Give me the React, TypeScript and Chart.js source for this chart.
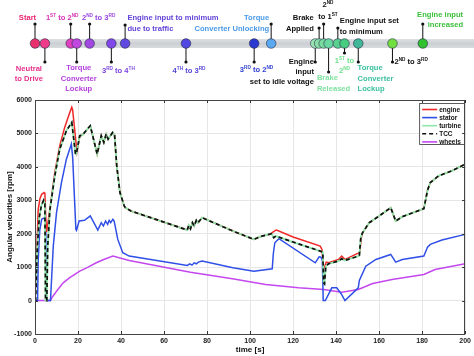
import React, { useEffect, useRef } from "react";
import { Chart, registerables } from "chart.js";
Chart.register(...registerables);

// ---------- data ----------
const xTickValues = [0, 20, 40, 60, 80, 100, 120, 140, 160, 180, 200];
const yTickValues = [-1000, 0, 1000, 2000, 3000, 4000, 5000, 6000];

const engine: number[][] = [
  [0, 0], [0.4, 0], [1.5, 2730], [2.3, 3050], [3.1, 3180], [4.2, 3230], [4.6, 3200], [5, 2500], [5.4, 2050],
  [6.9, 2730], [9.2, 3830], [11.5, 4630], [13.8, 5180], [16.2, 5630], [17.1, 5780], [17.5, 5700], [18.9, 4830],
  [19.5, 4450], [20.8, 4930], [22, 4950], [25.7, 5230], [28.9, 4380], [30.8, 4930], [32, 4730], [33.1, 4980],
  [34, 4830], [36.1, 5030], [37, 4950], [38, 4030], [39.5, 3230], [41.5, 2830], [42, 2780], [44.6, 2680],
  [70.8, 2110], [71.5, 2250], [72.3, 2150], [73.2, 2330], [74, 2230], [75, 2400], [75.8, 2330], [77.7, 2480],
  [92, 2080], [101.8, 1830], [104.6, 1910], [108.8, 1980], [110.3, 2030], [111.8, 2100], [112.3, 2110],
  [120, 1900], [132.6, 1630], [133.4, 1530], [134.2, 1000], [134.6, 980], [135.4, 1150], [136.5, 1130],
  [141.1, 1230], [142.6, 1330], [144.2, 1230], [150.3, 1420], [151, 1450], [151.8, 1900], [152.3, 2030],
  [155.4, 2330], [160, 2530], [165.4, 2780], [167.7, 2380], [170.8, 2510], [180.8, 2750], [182.5, 3300],
  [183.8, 3530], [187.7, 3730], [193.8, 3880], [200, 4080],
];

const tcc: number[][] = [
  [0, 0], [0.3, 0], [1, 1500], [2, 2500], [3, 2850], [4, 3000], [4.6, 2900], [4.9, 0], [5.5, 0], [5.9, 1600],
  [6.9, 2700], [9.2, 3730], [11.5, 4530], [14.6, 5080], [17.1, 5330], [18.8, 4400], [19.2, 4380], [20.8, 4930],
  [22, 4950], [25.7, 5230], [28.9, 4380], [30.8, 4930], [32, 4730], [33.1, 4980], [34, 4830], [36.1, 5030],
  [37, 4950], [38, 4030], [39.5, 3230], [41.5, 2830], [42, 2780], [44.6, 2680], [70.8, 2110], [71.5, 2250],
  [72.3, 2150], [73.2, 2330], [74, 2230], [75, 2400], [75.8, 2330], [77.7, 2480], [92, 2080], [101.8, 1830],
  [104.6, 1910], [108.8, 1980], [110, 2000], [111, 1880], [112, 1930], [120, 1750], [132.6, 1480],
  [133.8, 1450], [134.2, 530], [134.6, 500], [135.2, 1030], [136.5, 1100], [141, 1180], [142.6, 1250],
  [144, 1200], [150.3, 1330], [150.8, 1350], [151.5, 1900], [152.3, 2030], [155.4, 2330], [160, 2530],
  [165.4, 2780], [167.7, 2380], [170.8, 2510], [180.8, 2750], [182.5, 3300], [183.8, 3530], [187.7, 3730],
  [193.8, 3880], [200, 4080],
];

const turbine: number[][] = tcc;

const stator: number[][] = [
  [0, 0], [1.2, 0], [1.5, 1200], [2.2, 2100], [3.1, 2430], [4.6, 2480], [5, 2300], [5.3, 0], [7.2, 0],
  [8.5, 1630], [10, 2630], [12.3, 3530], [14.6, 4230], [16.9, 4680], [17.5, 4300], [19, 2130], [19.3, 2100],
  [20.5, 2380], [23, 2400], [25.7, 2530], [29.2, 2110], [30.8, 2330], [31.8, 2230], [32.8, 2380], [33.8, 2280],
  [34.5, 2400], [35.2, 2330], [36.2, 2430], [36.8, 2380], [38.5, 1830], [40.8, 1430], [43.8, 1330],
  [70.8, 1050], [72, 1100], [73, 1060], [74, 1130], [75, 1100], [76, 1150], [77.7, 1180], [92, 980],
  [101.8, 880], [110.3, 950], [110.8, 1400], [111.5, 1730], [113.4, 1850], [130.3, 1130], [132.1, 1310],
  [133, 1300], [133.6, 1200], [134, 0], [135, 0], [138, 380], [140.3, 380], [142.6, 180], [144.1, 0],
  [150.3, 380], [150.8, 600], [153.8, 1030], [158.5, 1230], [165.4, 1380], [167.7, 1150], [170.8, 1230],
  [180.8, 1330], [182.5, 1600], [183.8, 1680], [189.2, 1810], [200, 1980],
];

const wheels: number[][] = [
  [0, 0], [7.2, 0], [8, 100], [10, 280], [13.1, 530], [16, 680], [20.8, 880], [24, 980], [28.5, 1130],
  [32, 1230], [36.2, 1330], [43.8, 1200], [72.3, 850], [91.8, 650], [107.2, 480], [122.6, 380], [134.2, 330],
  [142.6, 250], [150.3, 330], [157, 510], [166, 630], [180.8, 780], [186, 930], [200, 1100],
];

const seriesLabels = ["engine", "stator", "turbine", "TCC", "wheels"];

const eventTimes = [0, 4.6, 16.6, 19.4, 25.4, 35.5, 41.9, 70.2, 101.9, 109.8, 130.3, 132.1, 134.2, 136.5, 140.8, 143.9, 150.3, 166.2, 180.3];
const eventLabels: string[][] = [
  ["Start"],
  ["Neutral", "to Drive"],
  ["1^{ST} to 2^{ND}"],
  ["Torque", "Converter", "Lockup"],
  ["2^{ND} to 3^{RD}"],
  ["3^{RD} to 4^{TH}"],
  ["Engine input to minimum", "due to traffic"],
  ["4^{TH} to 3^{RD}"],
  ["3^{RD} to 2^{ND}"],
  ["Torque", "Converter Unlocking"],
  ["Engine", "input", "set to idle voltage"],
  ["Brake", "Applied"],
  ["2^{ND}", "to 1^{ST}"],
  ["Brake", "Released"],
  ["Engine input set", "to minimum"],
  ["1^{ST} to", "2^{ND}"],
  ["Torque", "Converter", "Lockup"],
  ["2^{ND} to 3^{RD}"],
  ["Engine input", "increased"],
];

// ---------- styles for the timeline (layout only) ----------
type EvStyle = { fill: string; text: string; stem: number; dx: number; align: CanvasTextAlign; ys: number[] };
const eventStyles: EvStyle[] = [
  { fill: "#e8306e", text: "#e8246e", stem: 24, dx: -7.5, align: "center", ys: [18] },
  { fill: "#ee3c8a", text: "#e8308c", stem: 62, dx: -16, align: "center", ys: [68.5, 79] },
  { fill: "#e040c0", text: "#d832b8", stem: 24, dx: -8.5, align: "center", ys: [18] },
  { fill: "#c048e0", text: "#b440dc", stem: 62, dx: 2, align: "center", ys: [68, 78.5, 89] },
  { fill: "#a048e0", text: "#9a44e0", stem: 24, dx: 9, align: "center", ys: [18] },
  { fill: "#8048e8", text: "#7a44e0", stem: 62, dx: 7, align: "center", ys: [71] },
  { fill: "#6048e0", text: "#6444d8", stem: 25, dx: 2.3, align: "left", ys: [18, 28.5] },
  { fill: "#5048e0", text: "#5848d8", stem: 62, dx: 3, align: "center", ys: [71] },
  { fill: "#2a3ad0", text: "#3040d0", stem: 62, dx: 2.3, align: "center", ys: [70] },
  { fill: "#5aa8f0", text: "#4a9ae8", stem: 24, dx: -2, align: "right", ys: [18, 28.5] },
  { fill: "#98e4b0", text: "#111111", stem: 62, dx: -1.3, align: "right", ys: [62, 72, 82] },
  { fill: "#88e0a8", text: "#111111", stem: 28, dx: -5.3, align: "right", ys: [18, 29] },
  { fill: "#78dca0", text: "#111111", stem: 24, dx: 4.3, align: "center", ys: [5, 17] },
  { fill: "#68d8a0", text: "#7ee0a0", stem: 72, dx: -11.7, align: "left", ys: [78, 89] },
  { fill: "#58d090", text: "#111111", stem: 28, dx: 2, align: "left", ys: [21, 32] },
  { fill: "#48cc80", text: "#6ee08a", stem: 53, dx: 0, align: "center", ys: [61, 71] },
  { fill: "#40b898", text: "#3cc0a0", stem: 62, dx: -0.7, align: "left", ys: [68, 79, 89] },
  { fill: "#70e040", text: "#111111", stem: 62, dx: 2, align: "left", ys: [62] },
  { fill: "#30c030", text: "#3cc03c", stem: 24, dx: 40.3, align: "right", ys: [15, 25] },
];

const FONT = "Arial, 'Liberation Sans', sans-serif";
const BAR_Y = 43.5;
const TL_SIZE = 7.6;

function parseRich(s: string) {
  const parts: { t: string; sup: boolean }[] = [];
  const re = /\^\{([^}]*)\}/g;
  let last = 0;
  let m: RegExpExecArray | null;
  while ((m = re.exec(s))) {
    if (m.index > last) parts.push({ t: s.slice(last, m.index), sup: false });
    parts.push({ t: m[1], sup: true });
    last = re.lastIndex;
  }
  if (last < s.length) parts.push({ t: s.slice(last), sup: false });
  return parts;
}

function drawRich(ctx: CanvasRenderingContext2D, s: string, x: number, y: number, align: CanvasTextAlign, size: number) {
  const parts = parseRich(s);
  const supSize = size * 0.62;
  let total = 0;
  const widths = parts.map((p) => {
    ctx.font = `bold ${p.sup ? supSize : size}px ${FONT}`;
    const w = ctx.measureText(p.t).width;
    total += w;
    return w;
  });
  let cx = align === "left" ? x : align === "right" ? x - total : x - total / 2;
  ctx.textAlign = "left";
  ctx.textBaseline = "middle";
  parts.forEach((p, i) => {
    ctx.font = `bold ${p.sup ? supSize : size}px ${FONT}`;
    ctx.fillText(p.t, cx, p.sup ? y - size * 0.32 : y);
    cx += widths[i];
  });
}

const timelinePlugin = {
  id: "timeline",
  afterDraw(chart: any) {
    const ctx: CanvasRenderingContext2D = chart.ctx;
    const xs = chart.scales.x;
    ctx.save();
    const grad = ctx.createLinearGradient(0, BAR_Y - 4.5, 0, BAR_Y + 4.5);
    grad.addColorStop(0, "#dde0e3");
    grad.addColorStop(0.5, "#ccd0d4");
    grad.addColorStop(1, "#d8dbde");
    ctx.fillStyle = grad;
    ctx.fillRect(xs.getPixelForValue(0), BAR_Y - 4.5, chart.width - xs.getPixelForValue(0), 9);
    // stems
    eventTimes.forEach((t, i) => {
      const st = eventStyles[i];
      const cx = xs.getPixelForValue(t);
      ctx.strokeStyle = "#111";
      ctx.lineWidth = 1;
      ctx.beginPath();
      ctx.moveTo(cx, BAR_Y);
      ctx.lineTo(cx, st.stem);
      ctx.stroke();
      ctx.fillStyle = "#111";
      ctx.beginPath();
      ctx.arc(cx, st.stem, 1.6, 0, Math.PI * 2);
      ctx.fill();
    });
    // circles
    eventTimes.forEach((t, i) => {
      const st = eventStyles[i];
      const cx = xs.getPixelForValue(t);
      ctx.fillStyle = st.fill;
      ctx.strokeStyle = "rgba(40,40,70,0.75)";
      ctx.lineWidth = 0.8;
      ctx.beginPath();
      ctx.arc(cx, BAR_Y, 4.8, 0, Math.PI * 2);
      ctx.fill();
      ctx.stroke();
    });
    // labels
    eventTimes.forEach((t, i) => {
      const st = eventStyles[i];
      const cx = xs.getPixelForValue(t);
      ctx.fillStyle = st.text;
      eventLabels[i].forEach((line, j) => {
        drawRich(ctx, line, cx + st.dx, st.ys[j], st.align, TL_SIZE);
      });
    });
    ctx.restore();
  },
};

const framePlugin = {
  id: "frame",
  afterDatasetsDraw(chart: any) {
    const ctx: CanvasRenderingContext2D = chart.ctx;
    const { left, right, top, bottom } = chart.chartArea;
    const xs = chart.scales.x;
    const ys = chart.scales.y;
    ctx.save();
    // legend
    const bw = 46, bh = 42;
    const bx = right - bw, by = top + 3;
    ctx.fillStyle = "#fff";
    ctx.fillRect(bx, by, bw, bh);
    ctx.strokeStyle = "#333";
    ctx.lineWidth = 0.8;
    ctx.strokeRect(bx + 0.5, by + 0.5, bw - 1, bh - 1);
    chart.data.datasets.forEach((ds: any, i: number) => {
      const y = by + 6.5 + i * 8.1;
      ctx.strokeStyle = ds.borderColor;
      ctx.lineWidth = 1.6;
      ctx.setLineDash(ds.borderDash || []);
      ctx.beginPath();
      ctx.moveTo(bx + 3, y);
      ctx.lineTo(bx + 18, y);
      ctx.stroke();
      ctx.setLineDash([]);
      ctx.fillStyle = "#111";
      ctx.font = `bold 6.5px ${FONT}`;
      ctx.textAlign = "left";
      ctx.textBaseline = "middle";
      ctx.fillText(ds.label, bx + 20, y + 0.5);
    });
    // inward ticks
    ctx.strokeStyle = "#333";
    ctx.lineWidth = 1;
    xTickValues.forEach((v) => {
      const x = Math.round(xs.getPixelForValue(v)) + 0.5;
      ctx.beginPath();
      ctx.moveTo(x, bottom); ctx.lineTo(x, bottom - 3);
      ctx.moveTo(x, top); ctx.lineTo(x, top + 3);
      ctx.stroke();
    });
    yTickValues.forEach((v) => {
      const y = Math.round(ys.getPixelForValue(v)) + 0.5;
      ctx.beginPath();
      ctx.moveTo(left, y); ctx.lineTo(left + 3, y);
      ctx.moveTo(right, y); ctx.lineTo(right - 3, y);
      ctx.stroke();
    });
    // box
    ctx.strokeStyle = "#444";
    ctx.lineWidth = 1;
    ctx.strokeRect(Math.round(left) + 0.5, Math.round(top) + 0.5, Math.round(right - left) - 1, Math.round(bottom - top));
    ctx.restore();
  },
};

const toPts = (a: number[][]) => a.map(([x, y]) => ({ x, y }));

export default function App() {
  const ref = useRef<HTMLCanvasElement | null>(null);
  useEffect(() => {
    if (!ref.current) return;
    const tickFont = { family: FONT, weight: "bold" as const, size: 7 };
    const titleFont = { family: FONT, weight: "bold" as const, size: 8 };
    const chart = new Chart(ref.current, {
      type: "line",
      data: {
        datasets: [
          { label: seriesLabels[0], data: toPts(engine), borderColor: "#f02828", borderWidth: 1.5, order: 2 },
          { label: seriesLabels[1], data: toPts(stator), borderColor: "#2f4fe6", borderWidth: 1.5, order: 3 },
          { label: seriesLabels[2], data: toPts(turbine), borderColor: "#8ee6aa", borderWidth: 1.8, order: 1 },
          { label: seriesLabels[3], data: toPts(tcc), borderColor: "#111111", borderWidth: 1.7, borderDash: [4, 3], order: 0 },
          { label: seriesLabels[4], data: toPts(wheels), borderColor: "#c448ee", borderWidth: 1.5, order: 4 },
        ] as any,
      },
      options: {
        animation: false,
        responsive: false,
        devicePixelRatio: 1,
        parsing: false as any,
        layout: { padding: { top: 100, right: 6, left: 0, bottom: 0 } },
        plugins: { legend: { display: false }, tooltip: { enabled: false } },
        elements: { point: { radius: 0 }, line: { tension: 0, fill: false } },
        scales: {
          x: {
            type: "linear",
            min: 0,
            max: 200,
            afterBuildTicks: (s: any) => { s.ticks = xTickValues.map((v) => ({ value: v })); },
            afterFit: (s: any) => { s.height = 22; },
            grid: { color: "#e6e6e6", drawTicks: false },
            border: { display: false },
            ticks: { padding: 3, font: tickFont, color: "#222", maxRotation: 0, autoSkip: false, callback: (v: any) => String(v) },
            title: { display: true, text: "time [s]", font: titleFont, color: "#111", padding: { top: 0, bottom: 1 } },
          },
          y: {
            type: "linear",
            min: -1000,
            max: 6000,
            afterBuildTicks: (s: any) => { s.ticks = yTickValues.map((v) => ({ value: v })); },
            afterFit: (s: any) => { s.width = 35; },
            grid: { color: "#e6e6e6", drawTicks: false },
            border: { display: false },
            ticks: { padding: 3, font: tickFont, color: "#222", autoSkip: false, callback: (v: any) => String(v) },
            title: { display: true, text: "Angular velocities [rpm]", font: titleFont, color: "#111", padding: { top: 5, bottom: 0 } },
          },
        },
      },
      plugins: [framePlugin, timelinePlugin],
    });
    return () => chart.destroy();
  }, []);
  return (
    <div style={{ position: "absolute", left: 0, top: 0, width: 474, height: 356, background: "#fff" }}>
      <canvas ref={ref} width={474} height={356} style={{ width: 474, height: 356, display: "block" }} />
    </div>
  );
}
